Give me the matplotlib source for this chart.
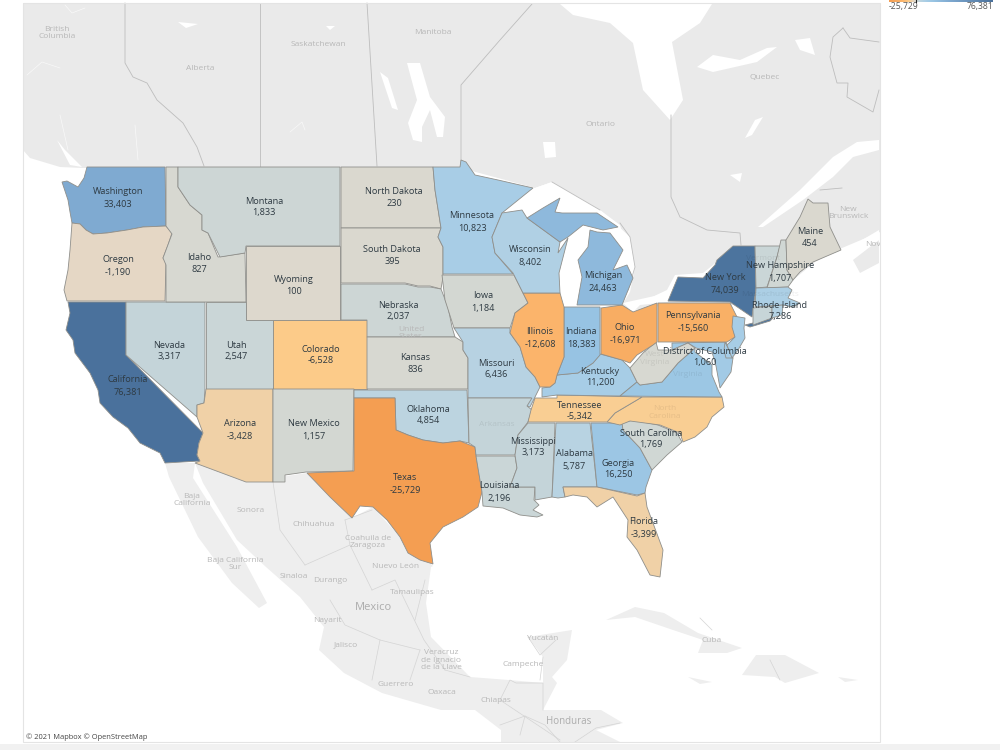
import numpy as np
import matplotlib
matplotlib.use("Agg")
import matplotlib.pyplot as plt
from matplotlib.colors import LinearSegmentedColormap, Normalize
from matplotlib.patches import Polygon, Rectangle

plt.rcParams["font.family"] = ["Open Sans", "DejaVu Sans"]

# =============================
# DATA
# =============================
labeled_states = ["Washington", "Oregon", "California", "Nevada", "Idaho", "Montana", "Wyoming", "Utah",
                  "Arizona", "Colorado", "New Mexico", "North Dakota", "South Dakota", "Nebraska", "Kansas",
                  "Oklahoma", "Texas", "Minnesota", "Iowa", "Missouri", "Louisiana", "Wisconsin", "Illinois",
                  "Michigan", "Indiana", "Ohio", "Kentucky", "Tennessee", "Mississippi", "Alabama", "Georgia",
                  "Florida", "South Carolina", "Pennsylvania", "New York", "New Hampshire", "Maine",
                  "Rhode Island", "District of Columbia"]
labeled_values = [33403, -1190, 76381, 3317, 827, 1833, 100, 2547,
                  -3428, -6528, 1157, 230, 395, 2037, 836,
                  4854, -25729, 10823, 1184, 6436, 2196, 8402, -12608,
                  24463, 18383, -16971, 11200, -5342, 3173, 5787, 16250,
                  -3399, 1769, -15560, 74039, 1707, 454,
                  7286, 1060]

# their labels are hidden in the picture, values guessed from the fill
faint_states = ["Arkansas", "West Virginia", "Virginia", "North Carolina", "Maryland", "New Jersey",
                "Delaware", "Vermont", "Massachusetts", "Connecticut", "Michigan UP", "Long Island"]
faint_values = [3200, 900, 16000, -5000, 13000, 11000, 12000, 2200, 9500, 2600, 24463, 74039]

color_stops = [-25729, -12608, -5900, -3400, -1190, 100, 1500, 3300, 5000, 11000, 18000, 33000, 76381]
stop_colors = ["#f49e52", "#fbb56c", "#fccd8c", "#eed1ab", "#e4d7c6", "#dcd8ce", "#d0d7d4", "#c3d4da",
               "#bbd4e1", "#a7cde6", "#98c4e3", "#80abd2", "#4a719c"]

legend_min = "-25,729"
legend_max = "76,381"

# =============================
# TRACED OUTLINES (image pixels)
# =============================
outlines = {
    "Washington": [(87,167),(165,167),(166,226),(143,227),(127,230),(107,233),(93,234),(86,230),(80,224),(72,223),(70,212),(68,200),(62,182),(67,181),(78,187),(84,178)],
    "Oregon": [(72,223),(80,224),(86,230),(93,234),(107,233),(127,230),(143,227),(166,226),(172,233),(168,245),(163,258),(166,262),(165,301),(67,301),(64,290),(68,270),(70,250)],
    "California": [(68,302),(126,302),(126,355),(203,433),(199,443),(197,455),(200,461),(165,463),(160,453),(140,443),(128,428),(113,417),(100,403),(98,390),(90,373),(75,353),(73,340),(66,330),(70,313)],
    "Nevada": [(126,302),(205,302),(205,389),(204,403),(197,405),(197,417),(126,355)],
    "Idaho": [(166,167),(178,167),(178,187),(190,205),(202,215),(202,230),(208,233),(218,257),(245,253),(246,302),(166,302),(166,265),(163,258),(172,234),(166,226)],
    "Montana": [(178,167),(340,167),(340,246),(246,246),(245,253),(220,257),(208,233),(202,230),(202,215),(190,205),(178,187)],
    "Wyoming": [(246,246),(340,246),(340,320),(246,320)],
    "Utah": [(206,302),(246,302),(246,320),(273,320),(273,389),(206,389)],
    "Arizona": [(206,389),(273,389),(273,482),(246,482),(195,463),(200,461),(197,455),(199,443),(203,433),(197,417),(197,405),(204,403)],
    "Colorado": [(273,320),(367,320),(367,389),(273,389)],
    "New Mexico": [(273,389),(354,389),(353,471),(306,472),(285,475),(285,482),(273,482)],
    "North Dakota": [(341,167),(433,167),(435,190),(441,228),(341,228)],
    "South Dakota": [(341,228),(441,228),(438,237),(443,247),(443,277),(441,289),(430,286),(418,286),(405,283),(341,283)],
    "Nebraska": [(341,284),(405,284),(418,287),(430,287),(441,289),(448,307),(452,327),(455,337),(367,337),(367,320),(341,320)],
    "Kansas": [(367,337),(455,337),(463,342),(463,350),(468,358),(468,389),(367,389)],
    "Oklahoma": [(354,390),(467,390),(469,443),(460,441),(443,443),(423,440),(408,435),(396,430),(395,398),(354,398)],
    "Texas": [(354,398),(395,398),(396,430),(408,435),(423,440),(443,443),(460,441),(475,447),(476,455),(480,480),(482,492),(478,507),(463,517),(443,527),(430,543),(433,564),(420,560),(408,553),(400,537),(387,520),(373,507),(360,506),(352,518),(330,497),(307,473),(354,471)],
    "Minnesota": [(433,167),(460,167),(461,160),(466,162),(475,175),(498,180),(533,188),(502,213),(492,237),(495,253),(513,274),(443,274),(443,247),(438,237),(441,228),(435,190)],
    "Iowa": [(442,275),(514,275),(523,293),(528,303),(515,313),(510,328),(454,328),(445,300)],
    "Missouri": [(454,328),(510,328),(510,333),(520,347),(526,367),(535,377),(540,387),(530,407),(525,405),(531,398),(468,398),(468,358),(463,350),(463,342)],
    "Arkansas": [(468,398),(532,398),(527,406),(532,410),(528,422),(518,435),(515,455),(476,455),(475,447),(469,443)],
    "Louisiana": [(476,456),(515,456),(517,468),(510,487),(535,487),(534,500),(539,505),(533,510),(543,515),(537,517),(520,515),(503,508),(483,506),(482,492),(480,480)],
    "Mississippi": [(528,423),(555,423),(552,497),(535,500),(535,487),(510,487),(517,468),(515,455),(518,435)],
    "Alabama": [(556,423),(590,423),(597,487),(563,487),(565,497),(558,498),(552,497)],
    "Georgia": [(591,423),(622,423),(623,430),(640,448),(652,470),(646,487),(645,493),(637,495),(597,487)],
    "Florida": [(563,487),(597,487),(637,496),(645,493),(647,507),(663,550),(660,577),(650,575),(637,550),(627,537),(628,520),(613,497),(597,507),(587,497),(573,495),(565,497)],
    "South Carolina": [(622,423),(633,420),(658,425),(677,433),(682,442),(667,455),(652,470),(640,448),(623,430)],
    "North Carolina": [(607,422),(615,413),(642,397),(722,397),(724,407),(712,417),(707,427),(695,437),(683,442),(680,433),(660,425),(630,421),(620,425)],
    "Tennessee": [(557,395),(642,397),(615,413),(607,422),(528,422),(531,410),(535,398),(557,398)],
    "Kentucky": [(542,397),(557,395),(620,396),(637,382),(630,368),(622,360),(600,354),(593,363),(578,373),(557,375),(555,383),(550,387),(542,388)],
    "Virginia": [(620,396),(722,397),(719,392),(712,375),(712,365),(695,352),(695,348),(678,363),(668,375),(662,382),(640,385),(637,382)],
    "Maryland": [(672,343),(726,342),(733,358),(731,372),(720,388),(716,366),(712,352),(696,348),(688,343),(672,350)],
    "Delaware": [(725,342),(733,358),(726,358),(724,350)],
    "West Virginia": [(656,342),(658,350),(672,350),(688,343),(695,348),(678,363),(668,375),(662,382),(640,385),(637,382),(630,368),(643,353)],
    "Ohio": [(601,308),(622,305),(633,312),(657,303),(657,342),(653,345),(637,355),(630,363),(622,360),(601,354)],
    "Indiana": [(564,307),(600,307),(600,355),(593,363),(578,373),(557,375),(564,357)],
    "Illinois": [(523,293),(560,293),(564,307),(564,357),(557,375),(555,383),(550,387),(540,387),(535,377),(526,367),(520,347),(510,333),(515,313),(528,303)],
    "Wisconsin": [(502,213),(522,210),(527,218),(560,242),(558,253),(568,238),(559,273),(560,293),(523,293),(513,273),(495,253),(492,237)],
    "Michigan UP": [(527,218),(543,208),(560,198),(555,212),(562,213),(597,213),(618,227),(603,230),(583,225),(568,237),(560,242)],
    "Michigan": [(597,232),(610,233),(623,250),(613,270),(627,265),(633,278),(622,305),(577,305),(582,277),(578,260),(588,247),(590,230)],
    "Pennsylvania": [(658,303),(667,303),(730,303),(737,317),(733,328),(735,337),(727,342),(658,342)],
    "New York": [(733,246),(755,246),(756,288),(752,317),(730,302),(668,301),(678,277),(703,278),(715,265),(717,260)],
    "Long Island": [(745,325),(773,318),(770,321),(750,327)],
    "New Jersey": [(733,316),(745,318),(744,328),(745,338),(738,350),(732,358),(727,345),(735,337),(732,327)],
    "Vermont": [(755,246),(780,246),(777,257),(767,287),(756,288)],
    "New Hampshire": [(781,240),(786,240),(787,270),(793,280),(788,287),(767,288),(777,257)],
    "Maine": [(786,240),(800,217),(808,199),(813,203),(828,203),(830,227),(841,250),(813,262),(800,272),(793,280),(787,270)],
    "Massachusetts": [(756,288),(788,287),(792,290),(788,298),(800,303),(793,307),(783,305),(755,307)],
    "Connecticut": [(753,308),(772,306),(772,318),(753,325)],
    "Rhode Island": [(772,306),(783,305),(782,315),(772,318)],
}

label_spots = {
    "Washington": (118,192), "Oregon": (118,260), "California": (128,380), "Nevada": (169,345),
    "Idaho": (199,258), "Montana": (264,201), "Wyoming": (294,279), "Utah": (236,345),
    "Arizona": (240,424), "Colorado": (321,349), "New Mexico": (314,424), "North Dakota": (394,192),
    "South Dakota": (392,250), "Nebraska": (398,305), "Kansas": (415,358), "Oklahoma": (428,409),
    "Texas": (405,478), "Minnesota": (472,216), "Iowa": (483,296), "Missouri": (496,363),
    "Louisiana": (499,486), "Wisconsin": (530,250), "Illinois": (540,332), "Michigan": (603,276),
    "Indiana": (581,332), "Ohio": (625,328), "Kentucky": (600,371), "Tennessee": (580,405),
    "Mississippi": (533,441), "Alabama": (574,454), "Georgia": (618,463), "Florida": (644,522),
    "South Carolina": (651,433), "Pennsylvania": (693,316), "New York": (725,278),
    "New Hampshire": (780,266), "Maine": (810,231), "Rhode Island": (780,305),
    "District of Columbia": (705,351),
}
faint_spots = {"Arkansas": (497,425), "North Carolina": (665,412), "West Virginia": (655,358), "Virginia": (688,374),
               "Massachusetts": (770,294), "Vermont": (763,258)}

# basemap
canada_shapes = [
    [(23,3),(880,3),(880,232),(842,248),(815,262),(787,285),(755,292),(735,305),(668,304),(640,310),(622,308),(630,260),(620,225),(600,210),(552,182),(535,188),(461,168),(83,168),(60,167),(30,158),(23,150)],
    [(853,260),(879,240),(879,263),(860,273)],
]
mexico_shapes = [
    [(195,463),(246,482),(307,473),(352,518),(373,507),(400,537),(433,566),(431,567),(426,603),(431,637),(470,677),(509,680),(543,683),(543,657),(528,637),(572,630),(567,660),(552,677),(557,683),(543,710),(601,710),(623,723),(596,730),(620,742),(501,742),(501,730),(475,710),(441,710),(382,693),(344,673),(319,650),(324,627),(300,597),(266,567),(237,540),(203,483)],
    [(165,463),(195,463),(193,478),(237,547),(267,603),(259,608),(232,583),(198,537),(169,477)],
    [(606,620),(635,607),(664,613),(698,633),(742,648),(727,653),(698,653),(703,640),(673,630),(635,617)],
    [(742,675),(756,655),(785,655),(819,673),(785,683),(775,677)],
    [(688,677),(712,682),(700,684)],
    [(838,677),(858,680),(845,682)],
]
water_shapes = [
    [(500,213),(535,188),(552,182),(600,210),(618,227),(570,235),(530,218)],
    [(558,253),(572,232),(600,227),(590,240),(580,253),(577,270),(583,290),(577,305),(565,307),(559,283)],
    [(618,226),(630,237),(635,267),(630,292),(622,305),(633,278),(627,265),(613,270),(623,250),(610,233)],
    [(623,303),(650,297),(670,293),(668,302),(640,305),(633,312)],
    [(667,290),(675,275),(703,273),(713,265),(718,260),(718,268),(703,278),(678,277),(668,301),(650,298)],
    [(758,227),(800,190),(833,157),(857,142),(879,140),(879,150),(853,157),(833,177),(803,200),(763,227)],
    [(840,253),(879,230),(879,240),(853,255)],
    [(560,4),(712,4),(700,23),(672,42),(683,100),(670,120),(643,90),(633,43),(610,23),(573,15)],
    [(407,63),(420,63),(430,97),(445,117),(443,137),(437,137),(430,110),(422,127),(422,142),(413,140),(408,123),(417,100)],
    [(380,72),(388,78),(398,110),(392,108)],
    [(57,140),(65,150),(82,167),(70,165)],
    [(697,67),(713,55),(740,60),(767,48),(777,47),(757,62),(713,72)],
    [(543,142),(555,142),(556,157),(545,158)],
    [(745,138),(755,120),(763,117),(752,135)],
    [(178,22),(198,24),(186,28)],
    [(330,30),(326,26),(335,26)],
    [(795,40),(810,38),(815,55),(800,50)],
    [(730,175),(742,173),(740,182)],
]
river_lines = [
    [(65,5),(72,13),(85,8)],
    [(27,75),(42,62),(60,68)],
    [(60,115),(68,150)],
    [(135,125),(138,160)],
    [(290,132),(302,122),(305,130)],
]
border_lines = [
    [(125,3),(125,63),(133,77),(147,83),(157,100),(183,123),(197,147),(204,166)],
    [(260,3),(260,166)],
    [(367,3),(377,166)],
    [(461,166),(461,85),(500,40),(532,4)],
    [(671,115),(671,197),(680,217),(707,230),(740,233),(741,245)],
    [(552,182),(600,210)],
    [(620,223),(630,237),(635,267),(628,290)],
    [(820,190),(842,188)],
    [(843,28),(833,37),(830,57),(837,83),(848,83),(847,97),(873,112),(879,90)],
    [(843,28),(850,38),(879,42)],
]
mexico_lines = [
    [(273,482),(280,530),(305,565)],
    [(305,565),(350,545),(372,590)],
    [(350,545),(345,520)],
    [(345,520),(372,510)],
    [(372,590),(395,580),(424,640),(445,670)],
    [(330,600),(345,625),(380,640),(420,650)],
    [(380,640),(372,680)],
    [(420,650),(410,680)],
    [(445,670),(470,677)],
    [(425,580),(415,620)],
    [(500,700),(510,680),(516,683),(543,683),(543,710)],
    [(543,657),(540,680)],
    [(528,637),(540,655),(556,640)],
    [(500,700),(530,720),(560,740)],
    [(500,725),(525,716),(545,725),(560,742)],
    [(525,716),(520,735)],
    [(620,723),(596,728),(575,742)],
    [(700,618),(712,630)],
    [(770,660),(780,680)],
]

place_names = {
    "British\nColumbia": (57,33), "Alberta": (200,69), "Saskatchewan": (318,45), "Manitoba": (433,33),
    "Ontario": (600,124), "Quebec": (765,78), "New\nBrunswick": (848,213), "Nov": (873,244),
    "United\nStates": (411,333), "Baja\nCalifornia": (192,500), "Sonora": (251,511), "Chihuahua": (314,524),
    "Coahuila de\nZaragoza": (368,542), "Baja California\nSur": (235,564), "Sinaloa": (294,577),
    "Durango": (330,580), "Nuevo León": (395,567), "Tamaulipas": (412,592), "Nayarit": (327,621),
    "Jalisco": (346,645), "Veracruz\nde Ignacio\nde la Llave": (441,660), "Yucatán": (543,638),
    "Campeche": (523,664), "Guerrero": (396,684), "Oaxaca": (442,693), "Chiapas": (496,700), "Cuba": (712,641),
}
big_place_names = {"Mexico": (373,607), "Honduras": (569,722)}

# =============================
# COLOURS
# =============================
norm = Normalize(min(color_stops), max(color_stops))
cmap = LinearSegmentedColormap.from_list(
    "orange_blue", [(float(norm(v)), c) for v, c in zip(color_stops, stop_colors)]
)
state_values = dict(zip(labeled_states + faint_states, labeled_values + faint_values))

# =============================
# PLOT
# =============================
fig = plt.figure(figsize=(10, 7.5), dpi=100, facecolor="white")
ax = fig.add_axes([0, 0, 1, 1])

for shape in canada_shapes:
    ax.add_patch(Polygon(shape, closed=True, facecolor="#eaeaea", edgecolor="none", zorder=1))
for shape in mexico_shapes:
    ax.add_patch(Polygon(shape, closed=True, facecolor="#eeeeee", edgecolor="none", zorder=1))
for shape in water_shapes:
    ax.add_patch(Polygon(shape, closed=True, facecolor="white", edgecolor="none", zorder=2))
for line in river_lines:
    xs, ys = zip(*line)
    ax.plot(xs, ys, color="white", linewidth=0.5, alpha=0.7, zorder=2)
for line in border_lines:
    xs, ys = zip(*line)
    ax.plot(xs, ys, color="#bdbdbd", linewidth=0.6, zorder=3)
for line in mexico_lines:
    xs, ys = zip(*line)
    ax.plot(xs, ys, color="#d4d4d4", linewidth=0.5, zorder=3)

for name, shape in outlines.items():
    ax.add_patch(Polygon(shape, closed=True, facecolor=cmap(norm(state_values[name])),
                         edgecolor="#8f8f8b", linewidth=0.6, zorder=4))

for name, (x, y) in place_names.items():
    ax.text(x, y, name, ha="center", va="center", fontsize=6, color="#b8b8b8", linespacing=1.05, zorder=5)
for name, (x, y) in big_place_names.items():
    ax.text(x, y, name, ha="center", va="center", fontsize=8 if name == "Mexico" else 7, color="#acacac", zorder=5)

for name, value in zip(labeled_states, labeled_values):
    x, y = label_spots[name]
    ax.text(x, y, name, ha="center", va="center", fontsize=6.6, color="#2e3a42", zorder=6)
    ax.text(x, y + 12, f"{value:,}", ha="center", va="center", fontsize=6.6, color="#2e3a42", zorder=6)

for name, (x, y) in faint_spots.items():
    shown = name.replace(" ", "\n") if name in ("North Carolina", "West Virginia") else name
    ax.text(x, y, shown, ha="center", va="center", fontsize=6, color="#000000", alpha=0.08,
            linespacing=1.2, zorder=6)

# frame, bottom strip, attribution
ax.add_patch(Rectangle((23, 3), 857, 739, fill=False, edgecolor="#e4e4e4", linewidth=0.8, zorder=7))
ax.add_patch(Rectangle((0, 744), 1000, 6, facecolor="#f1f1f1", edgecolor="none", zorder=7))
ax.text(26, 737, "© 2021 Mapbox © OpenStreetMap", ha="left", va="center", fontsize=5.4, color="#444444", zorder=7)

# legend stub cut off at the top edge
gradient = cmap(np.linspace(0, 1, 256))[np.newaxis, :, :]
ax.imshow(gradient, extent=(889, 993, 2, 0), aspect="auto", zorder=7)
ax.plot([916, 916], [0, 2], color="#222222", linewidth=0.8, zorder=8)
ax.text(889, 6, legend_min, ha="left", va="center", fontsize=6.2, color="#555555")
ax.text(993, 6, legend_max, ha="right", va="center", fontsize=6.2, color="#555555")

ax.set_xlim(0, 1000)
ax.set_ylim(750, 0)
ax.axis("off")

fig.savefig("out.png", dpi=100, facecolor="white")
